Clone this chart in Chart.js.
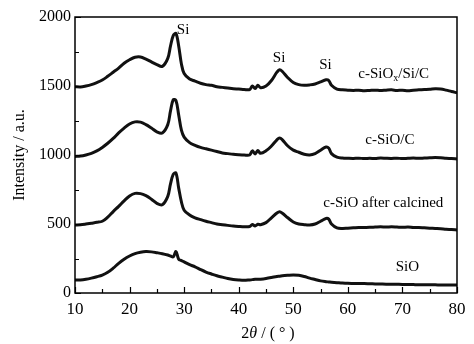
<!DOCTYPE html>
<html>
<head>
<meta charset="utf-8">
<script src="https://cdn.jsdelivr.net/npm/chart.js@4/dist/chart.umd.min.js"></script>
<style>
  html, body { margin: 0; padding: 0; background: #fff; }
  #wrap { width: 474px; height: 344px; }
</style>
</head>
<body>
<div id="wrap"><canvas id="xrd"></canvas></div>
<script>
// 2-theta positions shared by all patterns (finer around the Si reflections)
const angles = [10, 11, 12, 13, 14, 15, 16, 17, 18, 19, 20, 21, 22, 23, 24, 25, 26, 27,
  27.5, 28, 28.5, 29, 29.5, 30, 31, 32, 33, 34, 35, 36, 37, 38, 39, 40, 41, 42,
  42.5, 43, 43.5, 44, 45, 46, 47, 47.5, 48, 49, 50, 51, 52, 53, 54, 55, 56,
  56.5, 57, 58, 59, 60, 61, 62, 63, 64, 65, 66, 67, 68, 69, 70, 71, 72, 73, 74,
  75, 76, 77, 78, 79, 80];

const siOxSiC = [1495, 1493, 1500, 1510, 1525, 1543, 1570, 1600, 1630, 1665, 1690, 1708, 1710, 1695, 1675, 1655, 1642, 1700,
  1790, 1865, 1880, 1790, 1660, 1590, 1550, 1535, 1520, 1510, 1505, 1495, 1490, 1485, 1480, 1478, 1475, 1474,
  1500, 1482, 1505, 1488, 1500, 1540, 1600, 1618, 1605, 1560, 1525, 1510, 1505, 1508, 1515, 1530, 1545,
  1540, 1505, 1478, 1472, 1470, 1468, 1470, 1466, 1468, 1470, 1467, 1470, 1472, 1468, 1470, 1466, 1470, 1472, 1474,
  1476, 1480, 1478, 1470, 1460, 1451];

const siOC = [990, 992, 1000, 1012, 1030, 1055, 1085, 1120, 1160, 1195, 1225, 1240, 1238, 1220, 1195, 1168, 1160, 1220,
  1320, 1400, 1395, 1290, 1180, 1130, 1090, 1070, 1055, 1045, 1035, 1025, 1015, 1010, 1005, 1002, 1000, 1000,
  1030, 1008, 1032, 1012, 1030, 1065, 1110, 1123, 1110, 1065, 1035, 1020, 1005, 1000, 1010, 1035, 1058,
  1050, 1010, 985, 978, 976, 975, 977, 974, 976, 975, 978, 976, 975, 977, 974, 976, 978, 976, 978,
  980, 982, 980, 976, 974, 971];

const siOCalcined = [493, 495, 500, 506, 512, 520, 550, 590, 628, 668, 703, 722, 720, 705, 680, 650, 640, 700,
  790, 860, 870, 760, 660, 600, 565, 545, 532, 520, 510, 500, 495, 490, 485, 482, 480, 482,
  496, 486, 498, 495, 510, 545, 580, 589, 578, 545, 515, 500, 495, 493, 500, 520, 540,
  535, 500, 472, 468, 470, 472, 474, 475, 476, 478, 480, 478, 480, 478, 476, 478, 475, 474, 472,
  470, 468, 466, 462, 460, 457];

const siO = [94, 95, 100, 108, 118, 130, 150, 180, 215, 245, 268, 285, 295, 300, 298, 292, 285, 275,
  268, 262, 300, 245, 235, 225, 205, 190, 170, 152, 138, 125, 115, 105, 98, 94, 92, 95,
  97, 100, 99, 100, 105, 112, 120, 122, 125, 128, 130, 128, 120, 108, 98, 88, 82,
  80, 78, 75, 72, 70, 69, 68, 68, 67, 66, 65, 64, 64, 63, 62, 62, 61, 60, 60,
  59, 59, 58, 58, 58, 58];

const seriesValues = [siOxSiC, siOC, siOCalcined, siO];

const xTickStep = 10;
const yTickStep = 500;

const serif = '"Liberation Serif", "Times New Roman", serif';

const datasets = seriesValues.map(vals => ({
  data: angles.map((a, i) => ({ x: a, y: vals[i] })),
  borderColor: '#111',
  borderWidth: 3,
  pointRadius: 0,
  tension: 0.35,
  fill: false
}));

// frame, inward ticks, peak and sample labels, x-axis title
const decorations = {
  id: 'decorations',
  afterDraw(chart) {
    const { ctx, chartArea: area, scales: { x, y } } = chart;
    ctx.save();
    ctx.strokeStyle = '#000';
    ctx.lineWidth = 1.5;
    ctx.strokeRect(area.left, area.top, area.right - area.left, area.bottom - area.top);

    ctx.lineWidth = 1.2;
    ctx.beginPath();
    for (let v = 0; v <= 2000; v += 250) {
      const py = Math.round(y.getPixelForValue(v)) + 0.5;
      const len = v % 500 === 0 ? 6 : 4;
      ctx.moveTo(area.left, py);
      ctx.lineTo(area.left + len, py);
    }
    for (let a = 10; a <= 80; a += 5) {
      const px = Math.round(x.getPixelForValue(a)) + 0.5;
      const len = a % 10 === 0 ? 6 : 4;
      ctx.moveTo(px, area.bottom);
      ctx.lineTo(px, area.bottom - len);
    }
    ctx.stroke();

    ctx.fillStyle = '#000';
    ctx.textBaseline = 'middle';
    ctx.textAlign = 'center';
    ctx.font = '15px ' + serif;
    ctx.fillText('Si', x.getPixelForValue(29.8), y.getPixelForValue(1905));
    ctx.fillText('Si', x.getPixelForValue(47.4), y.getPixelForValue(1700));
    ctx.fillText('Si', x.getPixelForValue(55.9), y.getPixelForValue(1650));
    ctx.fillText('c-SiO/C', x.getPixelForValue(67.7), y.getPixelForValue(1105));
    ctx.fillText('c-SiO after calcined', x.getPixelForValue(66.5), y.getPixelForValue(650));
    ctx.fillText('SiO', x.getPixelForValue(70.9), y.getPixelForValue(188));

    // c-SiOx/Si/C with subscript x
    ctx.textAlign = 'left';
    let tx = x.getPixelForValue(61.9);
    const ty = y.getPixelForValue(1590);
    ctx.fillText('c-SiO', tx, ty);
    tx += ctx.measureText('c-SiO').width;
    ctx.font = '10px ' + serif;
    ctx.fillText('x', tx, ty + 5);
    tx += ctx.measureText('x').width;
    ctx.font = '15px ' + serif;
    ctx.fillText('/Si/C', tx, ty);

    // x-axis title: 2θ / ( ° )
    const parts = [['2', '16px '], ['\u03B8', 'italic 16px '], [' / ( \u00B0 )', '16px ']];
    let total = 0;
    parts.forEach(([t, f]) => { ctx.font = f + serif; total += ctx.measureText(t).width; });
    let cx = (area.left + area.right) / 2 - total / 2 + 2;
    parts.forEach(([t, f]) => {
      ctx.font = f + serif;
      ctx.fillText(t, cx, 334);
      cx += ctx.measureText(t).width;
    });
    ctx.restore();
  }
};

new Chart(document.getElementById('xrd'), {
  type: 'line',
  data: { datasets },
  plugins: [decorations],
  options: {
    responsive: true,
    maintainAspectRatio: false,
    animation: false,
    layout: { padding: { top: 17, right: 17, left: 0, bottom: 0 } },
    plugins: { legend: { display: false }, tooltip: { enabled: false } },
    scales: {
      x: {
        type: 'linear',
        min: 10,
        max: 80,
        afterFit(scale) { scale.height = 51; },
        grid: { display: false, drawTicks: false },
        border: { display: false },
        ticks: {
          stepSize: xTickStep,
          padding: 6,
          color: '#000',
          font: { family: serif, size: 17 },
          maxRotation: 0,
          callback: v => String(v)
        }
      },
      y: {
        min: 0,
        max: 2000,
        afterFit(scale) { scale.width = 75; },
        grid: { display: false, drawTicks: false },
        border: { display: false },
        ticks: {
          stepSize: yTickStep,
          padding: 4,
          color: '#000',
          font: { family: serif, size: 16 },
          callback: v => String(v)
        },
        title: {
          display: true,
          text: 'Intensity / a.u.',
          color: '#000',
          font: { family: serif, size: 16 },
          padding: { top: 10, bottom: 0 }
        }
      }
    }
  }
});
</script>
</body>
</html>
